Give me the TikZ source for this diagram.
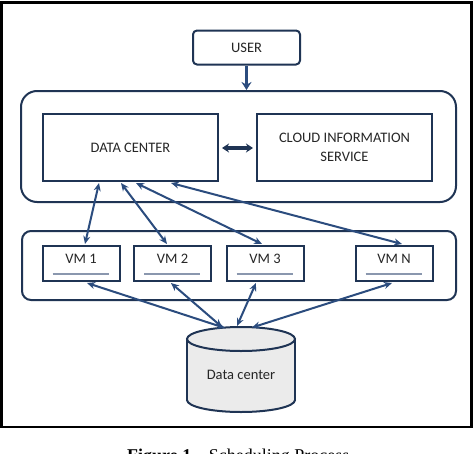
\documentclass[tikz,border=0pt]{standalone}
\usepackage{fontspec}
\setmainfont{Carlito}
\newfontfamily\capfont{Liberation Serif}
\usetikzlibrary{arrows.meta,calc}
\definecolor{boxc}{HTML}{1F3454}
\definecolor{arrc}{HTML}{2B4C7E}
\definecolor{txtc}{HTML}{262626}
\definecolor{cylfill}{HTML}{EBEBEB}
\definecolor{ulc}{HTML}{8A97AE}
\begin{document}
\begin{tikzpicture}[x=1pt,y=-1pt,
  txt/.style={text=txtc,font=\fontsize{14.5}{18}\selectfont},
  rbox/.style={draw=boxc,line width=2pt,inner sep=0pt,txt,align=center},
  grp/.style={draw=boxc,line width=2pt,inner sep=0pt},
  vmbox/.style={rbox,minimum width=77pt,minimum height=35pt,text height=9.3pt,text depth=9pt},
  ul/.style={draw=ulc,line width=1.1pt},
  dbl/.style={draw=arrc,line width=2pt,{Stealth[length=8pt,width=7pt]}-{Stealth[length=8pt,width=7pt]}},
  thick arrow/.style={draw=arrc,line width=3.2pt,-{Stealth[length=8pt,width=10pt]}},
  thick dbl/.style={draw=boxc,line width=3.2pt,{Stealth[length=7pt,width=9pt]}-{Stealth[length=7pt,width=9pt]}}
]
\useasboundingbox (0,0) rectangle (474,453);
\fill[white] (0,0) rectangle (474,453);
% outer frame
\draw[line width=2.5pt,black] (1.5,2.5) rectangle (471.5,427);

% nodes
\node[rbox,minimum width=107pt,minimum height=34pt,rounded corners=4pt] (user) at (246.5,47.5) {USER};
\node[grp,minimum width=435pt,minimum height=111pt,rounded corners=16pt] (dcgroup) at (238.5,146.5) {};
\node[rbox,minimum width=175pt,minimum height=67pt] (dc) at (130.5,147.5) {DATA CENTER};
\node[rbox,minimum width=175pt,minimum height=67pt] (cis) at (344.5,147.5) {CLOUD INFORMATION\\[1pt]SERVICE};
\node[grp,minimum width=434pt,minimum height=69pt,rounded corners=9pt] (vmgroup) at (239,265.5) {};
\node[vmbox] (vm1) at (81,263.5) {VM 1};
\node[vmbox] (vm2) at (172.5,263.5) {VM 2};
\node[vmbox] (vm3) at (265,263.5) {VM 3};
\node[vmbox] (vmn) at (394,263.5) {VM N};
\foreach \v in {vm1,vm2,vm3,vmn}{
  \draw[ul] ($(\v.south west)+(11,-8)$) -- ($(\v.south east)+(-12,-8)$);
}

% cylinder
\fill[cylfill] (187,339) rectangle (295,400);
\fill[cylfill] (241,400) ellipse (54 and 12);
\begin{scope}
  \clip (180,400) rectangle (300,420);
  \draw[boxc,line width=2pt] (241,400) ellipse (54 and 12);
\end{scope}
\draw[boxc,line width=2pt] (187,339) -- (187,400) (295,339) -- (295,400);
\filldraw[fill=cylfill,draw=boxc,line width=2pt] (241,339) ellipse (54 and 12);
\node[txt] (db) at (241,375) {Data center};
\coordinate (c1) at (225,328);
\coordinate (c2) at (222,327);
\coordinate (c3) at (237,326);
\coordinate (c4) at (252,327.5);

% connectors
\draw[thick arrow] (user.south) -- (dcgroup.north -| user.south);
\draw[thick dbl] ($(dc.east)+(3,0.5)$) -- ($(cis.west)+(-3,0.5)$);
\draw[dbl] ($(dc.south west)+(57,1)$) -- ($(vm1.north)+(4,-1)$);
\draw[dbl] ($(dc.south west)+(79,1)$) -- ($(vm2.north)+(-5.5,-1)$);
\draw[dbl] ($(dc.south west)+(94,1)$) -- ($(vm3.north)+(-3,-1)$);
\draw[dbl] ($(dc.south west)+(129,1)$) -- ($(vmn.north)+(8,-1)$);
\draw[dbl] ($(vm1.south)+(6,1)$) -- (c1);
\draw[dbl] ($(vm2.south)+(-1.5,1)$) -- (c2);
\draw[dbl] ($(vm3.south)+(-9,1)$) -- (c3);
\draw[dbl] ($(vmn.south)+(-2,1)$) -- (c4);

% caption (cut off by the page edge)
\node[anchor=base west,inner sep=0pt,font=\capfont\fontsize{18}{20}\selectfont] (cap) at (127,461) {\textbf{Figure 1.}\hspace{13pt}Scheduling Process};
\end{tikzpicture}
\end{document}
